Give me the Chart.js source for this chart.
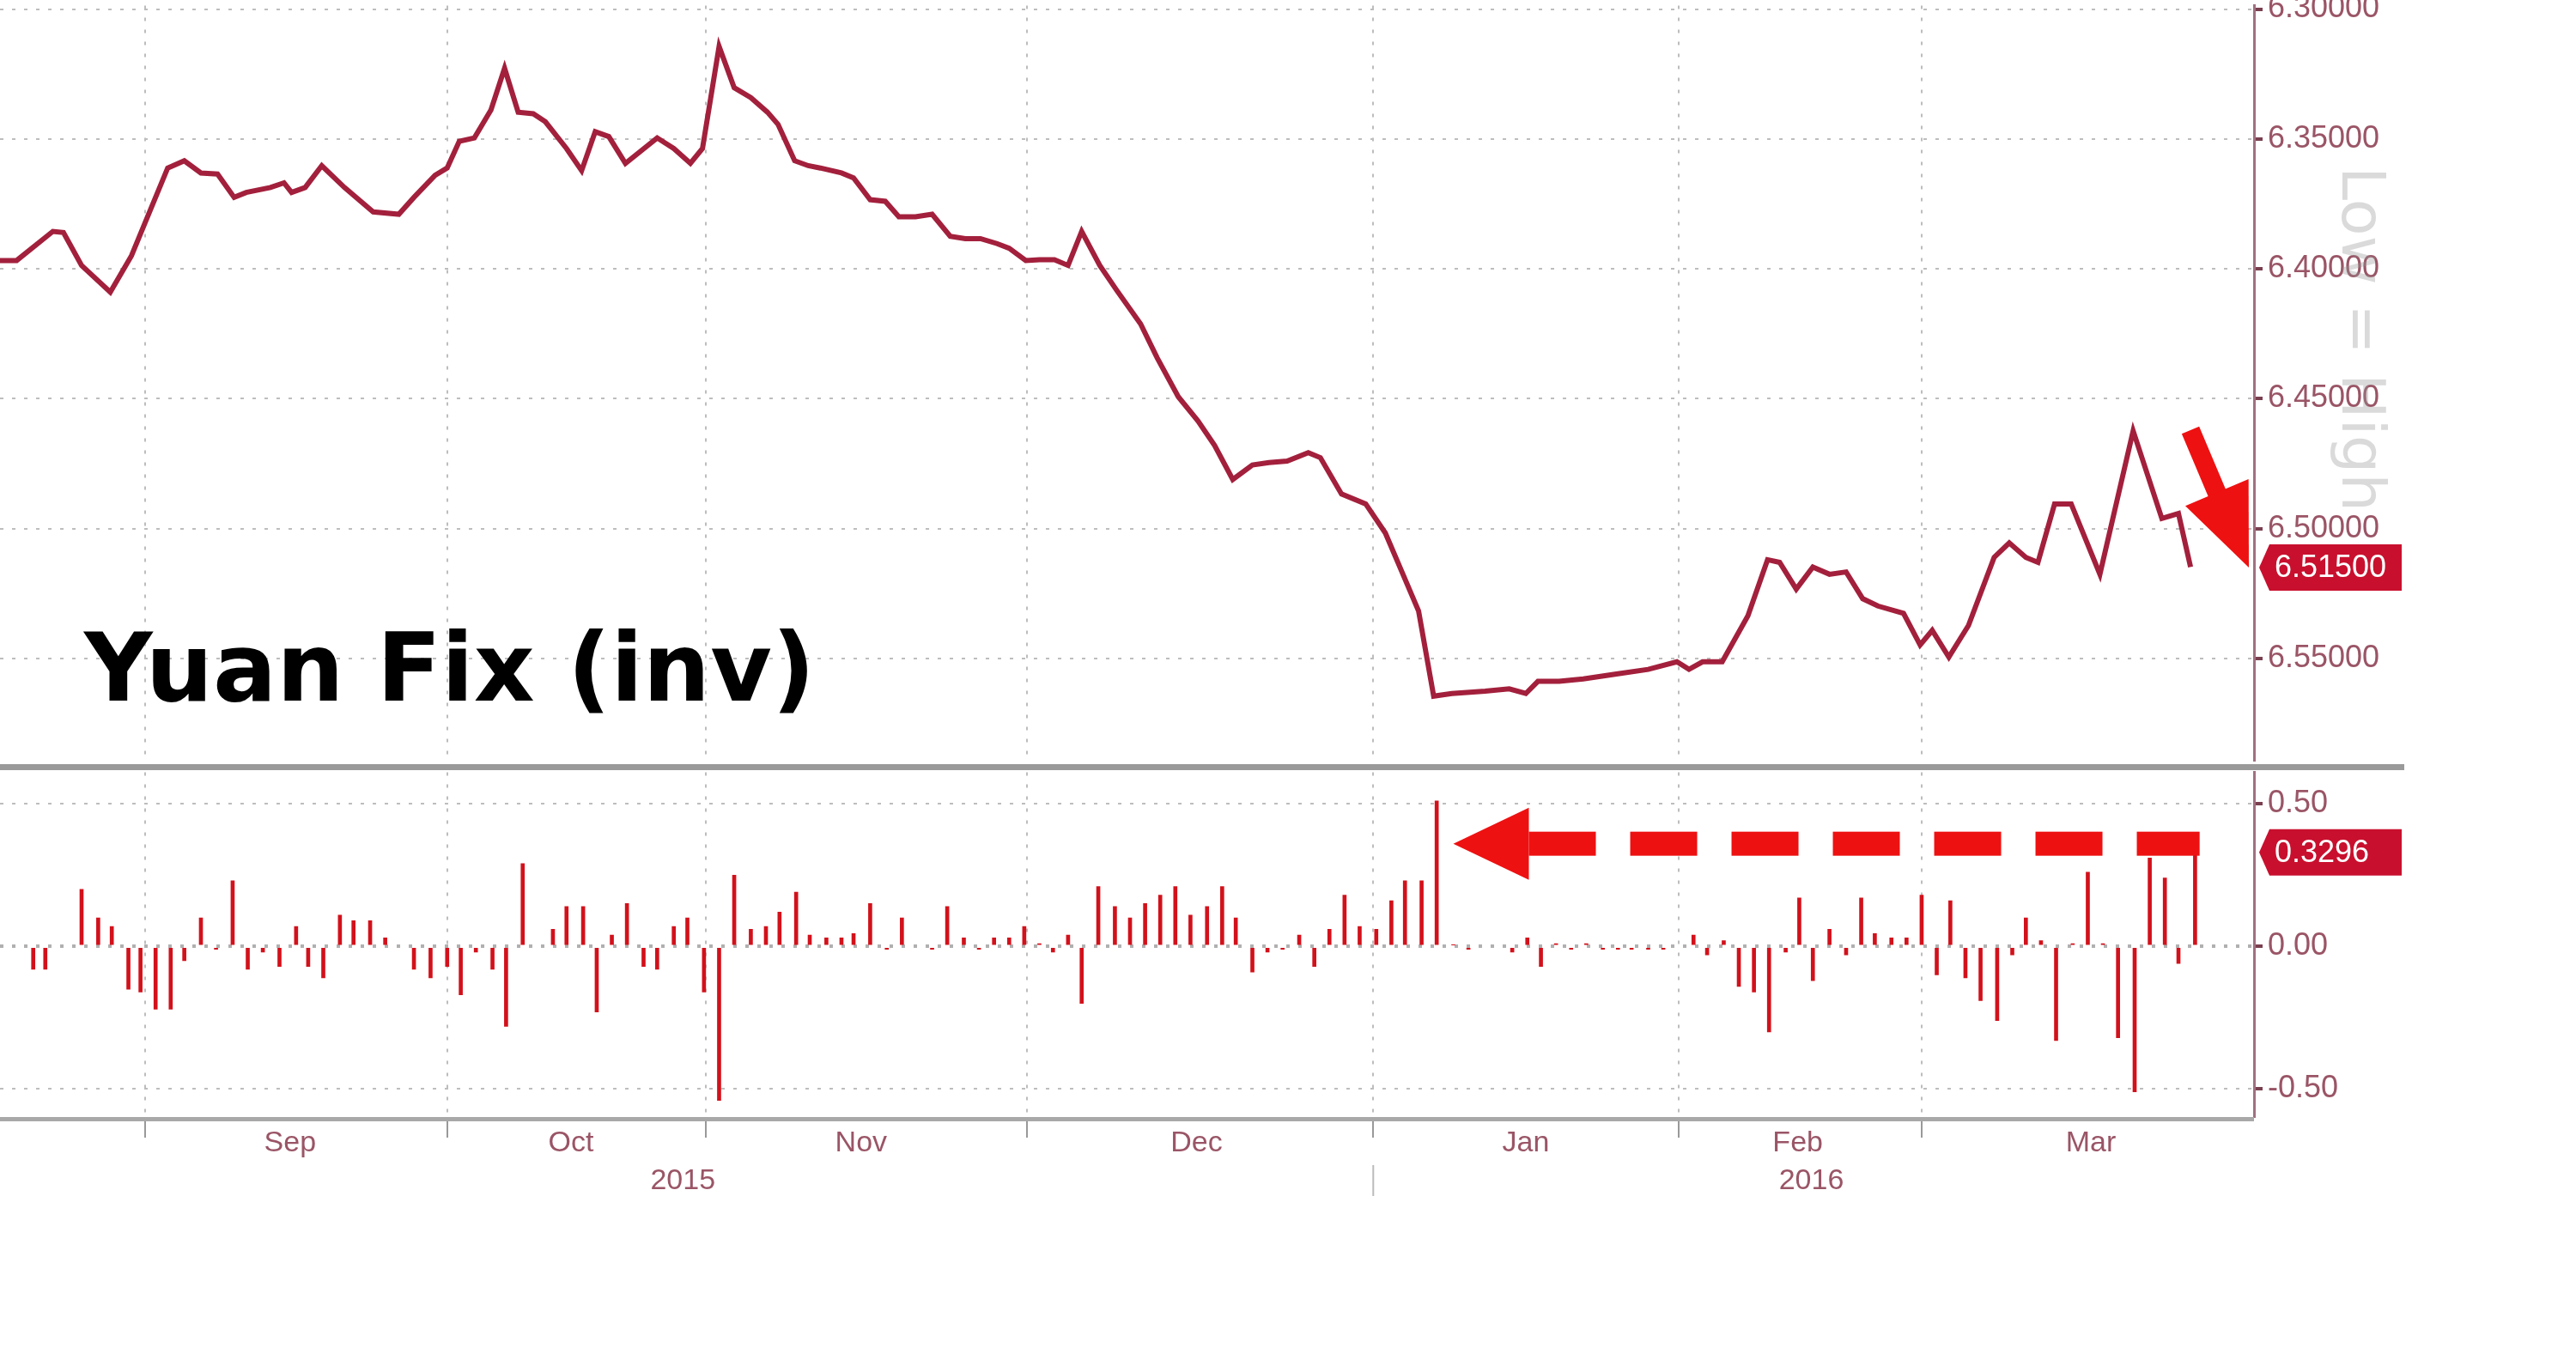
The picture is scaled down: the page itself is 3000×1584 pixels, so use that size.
<!DOCTYPE html>
<html><head><meta charset="utf-8">
<script src="https://cdn.jsdelivr.net/npm/chart.js@4.4.1/dist/chart.umd.min.js"></script>
<style>
html,body{margin:0;padding:0;background:#fff;width:3000px;height:1584px;overflow:hidden;position:relative}
canvas{position:absolute;left:0}
#c1{top:-21px}#c2{top:872px}
#sep{position:absolute;left:0;top:890px;width:2800px;height:7px;background:#9a9a9a}
</style></head><body>
<canvas id="c1" width="3000" height="935"></canvas>
<canvas id="c2" width="3000" height="712"></canvas>
<div id="sep"></div>
<script>
// trading-day index positions and fix values (top panel, inverted)
const lineX=[0,1.1,3.5,4.2,5.4,7.3,8.7,11.1,12.2,13.3,14.4,15.5,16.3,17.9,18.8,19.3,20.2,21.3,22.8,24.7,26.4,27.4,28.8,29.6,30.4,31.4,32.5,33.4,34.3,35.3,36.1,37.5,38.5,39.4,40.3,41.4,43.5,44.6,45.7,46.5,47.6,48.6,49.7,50.8,51.5,52.6,53.5,54.3,55.7,56.5,57.6,58.6,59.5,60.6,61.7,62.9,63.9,64.9,66.0,66.8,67.9,68.8,69.8,70.7,71.6,72.8,73.9,75.5,76.6,78.0,79.3,80.4,81.6,82.9,84.0,85.2,86.6,87.4,88.8,90.4,91.7,92.8,93.9,94.9,96.1,98.3,99.9,101.0,101.8,103.2,104.8,107.0,109.1,111.0,111.8,112.7,114.0,115.7,117.0,117.8,118.9,120.0,121.1,122.2,123.3,124.3,126.0,127.1,127.9,129.0,130.3,132.0,133.0,134.1,134.9,136.0,137.1,139.0,141.2,143.1,144.2,145.0];
const lineY=[6.3968,6.3968,6.3856,6.386,6.3987,6.409,6.395,6.3612,6.3584,6.3631,6.3635,6.3725,6.3706,6.3687,6.3669,6.3706,6.3687,6.3603,6.3687,6.3781,6.379,6.3725,6.364,6.3612,6.3509,6.3496,6.3388,6.3228,6.3397,6.3403,6.3434,6.3537,6.3622,6.3472,6.3491,6.3594,6.3496,6.3537,6.3594,6.3537,6.3144,6.3303,6.3341,6.3397,6.3444,6.3584,6.3603,6.3612,6.3631,6.365,6.3734,6.374,6.38,6.38,6.379,6.3875,6.3884,6.3884,6.3903,6.3921,6.3968,6.3965,6.3965,6.3987,6.3856,6.3987,6.4081,6.4212,6.4343,6.4493,6.4586,6.468,6.4811,6.4755,6.4746,6.474,6.4708,6.4727,6.4867,6.4905,6.5017,6.5167,6.5317,6.5645,6.5635,6.5626,6.5617,6.5635,6.5588,6.5588,6.5579,6.556,6.5542,6.5513,6.5542,6.5513,6.5513,6.5336,6.512,6.513,6.5233,6.5148,6.5176,6.5167,6.527,6.5298,6.5326,6.5448,6.5392,6.5495,6.5373,6.5111,6.5055,6.5111,6.513,6.4905,6.4905,6.5176,6.4624,6.4961,6.4942,6.5148];
// daily change bars (bottom panel)
const barX=[2.2,3.0,5.4,6.5,7.4,8.5,9.3,10.3,11.3,12.2,13.3,14.3,15.4,16.4,17.4,18.5,19.6,20.4,21.4,22.5,23.4,24.5,25.5,27.4,28.5,29.6,30.5,31.5,32.6,33.5,34.6,36.6,37.5,38.6,39.5,40.5,41.5,42.6,43.5,44.6,45.5,46.6,47.6,48.6,49.7,50.7,51.6,52.7,53.6,54.7,55.7,56.5,57.6,58.7,59.7,61.7,62.7,63.8,64.8,65.8,66.8,67.8,68.8,69.7,70.7,71.6,72.7,73.8,74.8,75.8,76.8,77.8,78.8,79.9,80.9,81.8,82.9,83.9,84.9,86.0,87.0,88.0,89.0,90.0,91.1,92.1,93.0,94.1,95.1,96.2,97.2,100.1,101.1,102.0,103.0,104.0,105.0,106.1,107.1,108.0,109.1,110.1,112.1,113.0,114.1,115.1,116.1,117.1,118.2,119.1,120.0,121.1,122.2,123.2,124.1,125.2,126.2,127.2,128.2,129.1,130.1,131.1,132.2,133.2,134.1,135.1,136.1,137.2,138.2,139.2,140.2,141.3,142.3,143.3,144.2,145.3];
const barY=[-0.08,-0.08,0.20,0.10,0.07,-0.15,-0.16,-0.22,-0.22,-0.05,0.10,-0.01,0.23,-0.08,-0.02,-0.07,0.07,-0.07,-0.11,0.11,0.09,0.09,0.03,-0.08,-0.11,-0.07,-0.17,-0.02,-0.08,-0.28,0.29,0.06,0.14,0.14,-0.23,0.04,0.15,-0.07,-0.08,0.07,0.10,-0.16,-0.54,0.25,0.06,0.07,0.12,0.19,0.04,0.03,0.03,0.045,0.15,-0.01,0.10,-0.01,0.14,0.03,-0.01,0.03,0.03,0.07,0.01,-0.02,0.04,-0.20,0.21,0.14,0.10,0.15,0.18,0.21,0.11,0.14,0.21,0.10,-0.09,-0.02,-0.01,0.04,-0.07,0.06,0.18,0.07,0.06,0.16,0.23,0.23,0.51,0.005,-0.01,-0.02,0.03,-0.07,0.01,-0.01,0.01,-0.01,-0.01,-0.01,-0.01,-0.01,0.04,-0.03,0.02,-0.14,-0.16,-0.30,-0.02,0.17,-0.12,0.06,-0.03,0.17,0.045,0.03,0.03,0.18,-0.10,0.16,-0.11,-0.19,-0.26,-0.03,0.10,0.02,-0.33,0.01,0.26,0.01,-0.32,-0.51,0.31,0.24,-0.06,0.3296];
const monthStarts=[9.6,29.6,46.7,68.0,90.9,111.1,127.2];
const monthLabelPos=[19.2,37.8,57.0,79.2,101.0,119.0,138.4];
const monthNames=['Sep','Oct','Nov','Dec','Jan','Feb','Mar'];
const yearPos=[45.2,119.9];
const yearNames=['2015','2016'];
const topTicks=[6.30,6.35,6.40,6.45,6.50,6.55];
const botTicks=[-0.5,0,0.5];
const lastFix=6.515, lastChg=0.3296;
const X_MIN=0,X_MAX=149.2;

const FONT='"Liberation Sans Narrow","Liberation Sans",Arial,sans-serif';
const AX='#9a5566';
const GRID='#bdbdbd';

function arrowHead(ctx,tx,ty,dx,dy,len,w){
  const n=Math.hypot(dx,dy);dx/=n;dy/=n;const px=-dy,py=dx;
  ctx.beginPath();ctx.moveTo(tx,ty);
  ctx.lineTo(tx-dx*len+px*w/2,ty-dy*len+py*w/2);
  ctx.lineTo(tx-dx*len-px*w/2,ty-dy*len-py*w/2);ctx.closePath();ctx.fill();
}
function tag(ctx,x,y,txt,w){
  ctx.fillStyle='#c8102e';
  ctx.beginPath();ctx.moveTo(x,y);ctx.lineTo(x+12,y-27);ctx.lineTo(x+w,y-27);ctx.lineTo(x+w,y+27);ctx.lineTo(x+12,y+27);ctx.closePath();ctx.fill();
  ctx.fillStyle='#fff';ctx.font='36px '+FONT;ctx.textBaseline='middle';ctx.textAlign='left';
  ctx.fillText(txt,x+18,y+1);
}

const topPlugin={id:'topDeco',afterDraw(ch){
  const ctx=ch.ctx,x=ch.scales.x,y=ch.scales.y;
  ctx.save();
  ctx.fillStyle='#000';ctx.font='bold 110px "DejaVu Sans",sans-serif';ctx.textBaseline='alphabetic';ctx.textAlign='left';
  ctx.fillText('Yuan Fix (inv)',98,y.getPixelForValue(6.5635)+8);
  ctx.translate(2728,215);ctx.rotate(Math.PI/2);ctx.fillStyle='rgba(150,150,150,0.35)';
  ctx.font='70px "DejaVu Sans",sans-serif';ctx.fillText('Low = High',0,0);
  ctx.setTransform(1,0,0,1,0,0);
  const tx=x.right-6,ty=y.getPixelForValue(lastFix);
  ctx.strokeStyle='#ee1111';ctx.fillStyle='#ee1111';ctx.lineWidth=22;
  ctx.beginPath();ctx.moveTo(tx-68,ty-160);ctx.lineTo(tx-30,ty-70);ctx.stroke();
  arrowHead(ctx,tx,ty,68,160,95,80);
  tag(ctx,x.right+6,y.getPixelForValue(lastFix),lastFix.toFixed(5),166);
  ctx.restore();
}};

new Chart(document.getElementById('c1'),{
  type:'line',
  data:{datasets:[{data:lineX.map((v,i)=>({x:v,y:lineY[i]})),borderColor:'#a3203c',borderWidth:6,pointRadius:0,tension:0}]},
  options:{responsive:false,animation:false,devicePixelRatio:1,
    layout:{padding:0},
    plugins:{legend:{display:false},tooltip:{enabled:false}},
    scales:{
      x:{type:'linear',min:X_MIN,max:X_MAX,afterBuildTicks:s=>{s.ticks=monthStarts.map(v=>({value:v}))},
        ticks:{display:false},grid:{color:GRID,lineWidth:2,drawTicks:false},border:{display:false,dash:[4,10]}},
      y:{position:'right',reverse:true,min:6.2987,max:6.5895,
        afterBuildTicks:s=>{s.ticks=topTicks.map(v=>({value:v}))},
        afterFit:s=>{s.width=375},
        ticks:{color:AX,font:{family:FONT,size:36},padding:6,callback:v=>Number(v).toFixed(5)},
        grid:{color:GRID,lineWidth:2,tickColor:'#7a4050',tickLength:10,tickWidth:4},
        border:{display:true,color:'#a07080',width:3,dash:[4,10]}}
    }},
  plugins:[topPlugin]
});

const botPlugin={id:'botDeco',afterDraw(ch){
  const ctx=ch.ctx,x=ch.scales.x,y=ch.scales.y;
  ctx.save();
  ctx.fillStyle='#a8a8a8';ctx.fillRect(0,y.bottom,x.right,5);
  ctx.fillStyle=AX;ctx.font='34px '+FONT;ctx.textAlign='center';ctx.textBaseline='top';
  monthLabelPos.forEach((v,i)=>ctx.fillText(monthNames[i],x.getPixelForValue(v),y.bottom+14));
  yearPos.forEach((v,i)=>ctx.fillText(yearNames[i],x.getPixelForValue(v),y.bottom+58));
  ctx.strokeStyle='#bbb';ctx.lineWidth=2;const jx=x.getPixelForValue(monthStarts[4]);
  ctx.beginPath();ctx.moveTo(jx,y.bottom+56);ctx.lineTo(jx,y.bottom+92);ctx.stroke();
  const ay=y.getPixelForValue(0.36);
  const tip=x.getPixelForValue(96.2),end=x.getPixelForValue(145.6);
  ctx.fillStyle='#ee1111';
  arrowHead(ctx,tip,ay,-1,0,88,84);
  for(let s=tip+88;s<end;s+=118){ctx.fillRect(s,ay-14,Math.min(78,end-s),28);}
  tag(ctx,x.right+6,y.getPixelForValue(lastChg),lastChg.toFixed(4),166);
  ctx.restore();
}};

new Chart(document.getElementById('c2'),{
  type:'bar',
  data:{datasets:[{data:barX.map((v,i)=>({x:v,y:barY[i]})),backgroundColor:'#d2111b',barThickness:4}]},
  options:{responsive:false,animation:false,devicePixelRatio:1,
    layout:{padding:{left:0,right:0,top:2,bottom:259}},
    plugins:{legend:{display:false},tooltip:{enabled:false}},
    scales:{
      x:{type:'linear',min:X_MIN,max:X_MAX,offset:false,afterBuildTicks:s=>{s.ticks=monthStarts.map(v=>({value:v}))},
        ticks:{display:false},grid:{offset:false,color:GRID,lineWidth:2,drawTicks:true,tickLength:24,tickColor:'#999'},
        border:{display:false,dash:[4,10]}},
      y:{position:'right',min:-0.598,max:0.61,
        afterBuildTicks:s=>{s.ticks=botTicks.map(v=>({value:v}))},
        afterFit:s=>{s.width=375},
        ticks:{color:AX,font:{family:FONT,size:36},padding:6,callback:v=>Number(v).toFixed(2)},
        grid:{color:ctx=>ctx.tick&&ctx.tick.value===0?'#b0b0b0':GRID,lineWidth:ctx=>ctx.tick&&ctx.tick.value===0?4:2,tickColor:'#7a4050',tickLength:10,tickWidth:4},
        border:{display:true,color:'#a07080',width:3,dash:[4,10]}}
    }},
  plugins:[botPlugin]
});
</script></body></html>
